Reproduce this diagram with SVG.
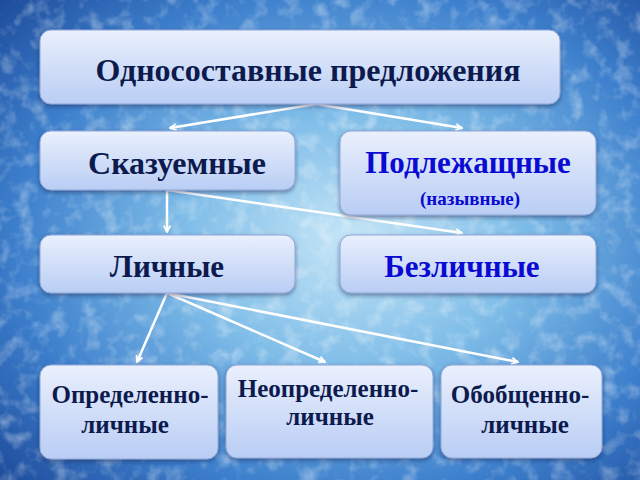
<svg xmlns="http://www.w3.org/2000/svg" width="640" height="480" viewBox="0 0 640 480">
<style>
.box{fill:url(#boxg);stroke:#8ea6d6;stroke-width:1;filter:url(#sh)}
.t{font-weight:bold;text-anchor:middle;fill:#0c1a4e}
.b{fill:#0a0ad2}
.c{stroke:#ffffff;stroke-width:2.5;fill:none;marker-end:url(#ah)}
</style>
<defs>
<radialGradient id="bg" cx="0.55" cy="0.5" r="0.75">
<stop offset="0" stop-color="#c6e6f7"/>
<stop offset="0.35" stop-color="#7fbde8"/>
<stop offset="0.7" stop-color="#3d7fcc"/>
<stop offset="1" stop-color="#1c4a9a"/>
</radialGradient>
<linearGradient id="boxg" x1="0" y1="0" x2="0" y2="1">
<stop offset="0" stop-color="#eaf0fd"/>
<stop offset="1" stop-color="#b9cdf4"/>
</linearGradient>
<filter id="sh" x="-10%" y="-10%" width="120%" height="130%">
<feDropShadow dx="0" dy="2" stdDeviation="2" flood-color="#0a2050" flood-opacity="0.5"/>
</filter>
<filter id="tex" x="0" y="0" width="100%" height="100%">
<feTurbulence type="fractalNoise" baseFrequency="0.06" numOctaves="3" seed="4"/>
<feColorMatrix type="matrix" values="0 0 0 0 1  0 0 0 0 1  0 0 0 0 1  0 0 0 1.6 -0.75"/>
</filter>
<marker id="ah" viewBox="0 0 10 10" refX="9" refY="5" markerWidth="9" markerHeight="9" orient="auto" markerUnits="userSpaceOnUse">
<path d="M2,1.5 L9,5 L2,8.5" fill="none" stroke="#ffffff" stroke-width="2"/>
</marker>
</defs>
<rect width="640" height="480" fill="url(#bg)"/>
<rect width="640" height="480" filter="url(#tex)" opacity="0.55"/>
<g id="connectors">
<line class="c" x1="316" y1="104" x2="170" y2="128"/>
<line class="c" x1="316" y1="104" x2="462" y2="128"/>
<line class="c" x1="167" y1="190" x2="167" y2="232"/>
<line class="c" x1="167" y1="190" x2="462" y2="233"/>
<line class="c" x1="167" y1="293" x2="137" y2="362"/>
<line class="c" x1="167" y1="293" x2="325" y2="362"/>
<line class="c" x1="167" y1="293" x2="518" y2="362"/>
</g>
<g font-family="Liberation Serif, Times New Roman, serif">
<g id="n-root">
<rect class="box" x="40" y="30" width="520" height="74" rx="11"/>
<text class="t" x="308" y="81" font-size="32">Односоставные предложения</text>
</g>
<g id="n-skaz">
<rect class="box" x="40" y="131" width="255" height="59" rx="11"/>
<text class="t" x="177" y="174" font-size="32">Сказуемные</text>
</g>
<g id="n-podl">
<rect class="box" x="340" y="131" width="256" height="84" rx="11"/>
<text class="t b" x="468" y="173" font-size="31">Подлежащные</text>
<text class="t b" x="470" y="205" font-size="19">(назывные)</text>
</g>
<g id="n-lich">
<rect class="box" x="40" y="235" width="255" height="58" rx="11"/>
<text class="t" x="167" y="277" font-size="31">Личные</text>
</g>
<g id="n-bezl">
<rect class="box" x="340" y="235" width="256" height="58" rx="11"/>
<text class="t b" x="462" y="277" font-size="31">Безличные</text>
</g>
<g id="n-opr">
<rect class="box" x="40" y="365" width="178" height="94" rx="11"/>
<text class="t" x="130" y="403" font-size="25">Определенно-</text>
<text class="t" x="125" y="433" font-size="25">личные</text>
</g>
<g id="n-neopr">
<rect class="box" x="226" y="365" width="207" height="93" rx="11"/>
<text class="t" x="328" y="397" font-size="25">Неопределенно-</text>
<text class="t" x="330" y="425" font-size="25">личные</text>
</g>
<g id="n-obob">
<rect class="box" x="441" y="365" width="161" height="93" rx="11"/>
<text class="t" x="520" y="403" font-size="25">Обобщенно-</text>
<text class="t" x="525" y="433" font-size="25">личные</text>
</g>
</g>
</svg>
